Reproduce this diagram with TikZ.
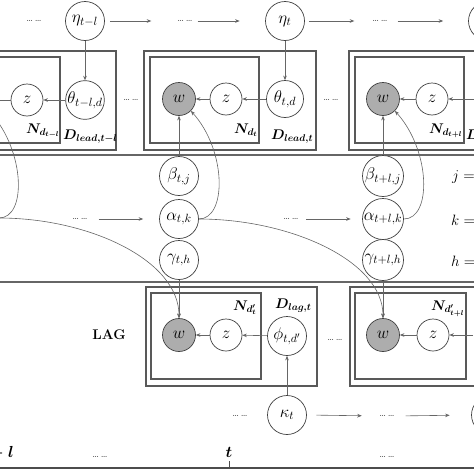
\RequirePackage{fix-cm}
\documentclass[tikz,border=0pt]{standalone}
\usetikzlibrary{arrows.meta}
\begin{document}
\begin{tikzpicture}[x=1pt,y=-1pt,
  rv/.style={circle,draw=black!75,line width=0.7pt,fill=white,minimum size=39pt,inner sep=0pt,font=\fontsize{17}{19}\selectfont},
  smallrv/.style={rv,minimum size=32pt},
  obsrv/.style={rv,minimum size=33pt,fill=black!32},
  conn/.style={draw=black!60,line width=0.6pt,-{Stealth[length=4.5pt,width=3.6pt]}},
  platebox/.style={draw=black!65,line width=1.1pt},
  sepline/.style={draw=black!60,line width=1.1pt},
  dotsn/.style={font=\fontsize{10}{11}\selectfont,text=black!75,inner sep=0pt},
  plab/.style={font=\fontsize{14}{16}\selectfont\boldmath,inner sep=0pt,anchor=base west},
  idx/.style={font=\fontsize{15}{17}\selectfont,inner sep=0pt,anchor=west},
  tlab/.style={font=\fontsize{16}{18}\selectfont\boldmath,inner sep=0pt}
]
\useasboundingbox (0,0) rectangle (474,474);
\clip (0,0) rectangle (474,474);

% ---------- top row (eta) ----------
\node[dotsn] (td1) at (34,21) {\ldots\,\ldots};
\node[rv] (eta1) at (85,21) {$\eta_{t-l}$};
\node[dotsn] (td2) at (185,21) {\ldots\,\ldots};
\node[rv] (eta2) at (285,21) {$\eta_t$};
\node[dotsn] (td3) at (380,21) {\ldots\,\ldots};
\node[rv] (eta3) at (488,21) {};
\draw[conn,shorten <=5pt,shorten >=26pt] (eta1.east) -- (td2.west);
\draw[conn,shorten <=5pt,shorten >=25.5pt] (td2.east) -- (eta2.west);
\draw[conn,shorten <=4pt,shorten >=18pt] (eta2.east) -- (td3.west);
\draw[conn,shorten <=10pt,shorten >=25pt] (td3.east) -- (eta3.west);

% ---------- LEAD plates ----------
\draw[platebox] (-60,51) rectangle (116,150);
\draw[platebox] (-60,57) rectangle (60,143);
\draw[platebox] (144,51) rectangle (316,150);
\draw[platebox] (150,57) rectangle (259,143);
\draw[platebox] (349,51) rectangle (540,150);
\draw[platebox] (355,57) rectangle (464,143);

\coordinate (w1) at (-22,100);
\node[smallrv] (z1) at (27,100) {$z$};
\node[rv,minimum size=38pt] (th1) at (85,100) {$\theta_{t-l,d}$};
\node[obsrv] (w2) at (179,99) {$w$};
\node[smallrv] (z2) at (226,99) {$z$};
\node[rv,minimum size=37pt] (th2) at (285,99) {$\theta_{t,d}$};
\node[obsrv] (w3) at (383,99) {$w$};
\node[smallrv] (z3) at (432,99) {$z$};
\coordinate (th3) at (492,99);

\node[dotsn] (pd1) at (131,100) {\ldots\,\ldots};
\node[dotsn] (pd2) at (331,100) {\ldots\,\ldots};

\node[plab] (n1) at (26,133) {$N_{d_{t-l}}$};
\node[plab] (d1) at (63,139) {$D_{lead,t-l}$};
\node[plab] (n2) at (234,133) {$N_{d_t}$};
\node[plab] (d2) at (271,139) {$D_{lead,t}$};
\node[plab] (n3) at (429,133) {$N_{d_{t+l}}$};
\node[plab] (d3) at (466,139) {$D_{lead,t+l}$};

\draw[conn] (eta1) -- (th1);
\draw[conn] (th1) -- (z1);
\draw[conn,shorten >=16pt] (z1) -- (w1);
\draw[conn] (eta2) -- (th2);
\draw[conn] (th2) -- (z2);
\draw[conn] (z2) -- (w2);
\draw[conn,shorten <=18pt] (th3) -- (z3);
\draw[conn] (z3) -- (w3);

% ---------- separators ----------
\draw[sepline] (0,155) -- (474,155);
\draw[sepline] (0,282) -- (474,282);

% ---------- middle (beta, alpha, gamma) ----------
\node[rv] (beta1) at (179,176) {$\beta_{t,j}$};
\node[rv] (alpha1) at (179,219) {$\alpha_{t,k}$};
\node[rv] (gamma1) at (179,260) {$\gamma_{t,h}$};
\node[rv,minimum size=41pt] (beta2) at (383,176) {$\beta_{t+l,j}$};
\node[rv,minimum size=41pt] (alpha2) at (383,219) {$\alpha_{t+l,k}$};
\node[rv,minimum size=41pt] (gamma2) at (383,260) {$\gamma_{t+l,h}$};
\coordinate (alpha0) at (-1,218);
\coordinate (w1se) at (-11,111);

\node[dotsn] (md1) at (80,219) {\ldots\,\ldots};
\node[dotsn] (md2) at (291,219) {\ldots\,\ldots};
\draw[conn,shorten <=11pt,shorten >=16pt] (md1.east) -- (alpha1.west);
\draw[conn,shorten <=7.5pt,shorten >=11.5pt] (md2.east) -- (alpha2.west);

\node[idx] (jl) at (452,177) {$j =$};
\node[idx] (kl) at (451,220) {$k =$};
\node[idx] (hl) at (451,261) {$h =$};

\draw[conn] (beta1) -- (w2);
\draw[conn] (beta2) -- (w3);

% ---------- LAG plates ----------
\node[font=\fontsize{14}{16}\selectfont\bfseries,inner sep=0pt] (lag) at (109,335) {LAG};
\draw[platebox] (146,287) rectangle (317,386);
\draw[platebox] (151,293) rectangle (261,379);
\draw[platebox] (350,287) rectangle (540,386);
\draw[platebox] (355,293) rectangle (466,379);

\node[obsrv] (w4) at (179,335) {$w$};
\node[smallrv] (z4) at (226,335) {$z$};
\node[rv] (phi1) at (287,336) {$\phi_{t,d'}$};
\node[obsrv] (w5) at (383,335) {$w$};
\node[smallrv] (z5) at (433,335) {$z$};
\coordinate (phi2) at (492,335);
\node[dotsn] (ld1) at (335,340) {\ldots\,\ldots};

\node[plab] (n4) at (233,310) {$N_{d'_t}$};
\node[plab] (d4) at (275,308) {$D_{lag,t}$};
\node[plab] (n5) at (431,310) {$N_{d'_{t+l}}$};

\draw[conn] (gamma1) -- (w4);
\draw[conn] (gamma2) -- (w5);
\draw[conn] (z4) -- (w4);
\draw[conn] (phi1) -- (z4);
\draw[conn] (z5) -- (w5);
\draw[conn,shorten <=19pt] (phi2) -- (z5);

% ---------- curved links from alpha ----------
\draw[conn] (alpha0) .. controls +(28,0) and +(36,40) .. (w1se);
\draw[conn] (alpha0) .. controls +(90,0) and +(0,-58) .. (w4.north);
\draw[conn] (alpha1.east) .. controls +(28,0) and +(36,40) .. (w2.south east);
\draw[conn] (alpha1.east) .. controls +(90,0) and +(0,-58) .. (w5.north);
\draw[conn] (alpha2.east) .. controls +(28,0) and +(36,40) .. (w3.south east);

% ---------- bottom row (kappa) ----------
\node[dotsn] (bd1) at (240,416) {\ldots\,\ldots};
\node[rv] (kap1) at (287,415) {$\kappa_t$};
\node[dotsn] (bd2) at (387,416) {\ldots\,\ldots};
\node[rv] (kap2) at (491,415) {};
\draw[conn] (kap1) -- (phi1);
\draw[conn,shorten <=9.5pt,shorten >=17.5pt] (kap1.east) -- (bd2.west);
\draw[conn,shorten <=11pt,shorten >=21.5pt] (bd2.east) -- (kap2.west);

% ---------- time axis ----------
\node[dotsn] (ad1) at (100,457) {\ldots\,\ldots};
\node[dotsn] (ad2) at (387,457) {\ldots\,\ldots};
\node[tlab,anchor=base] (tt) at (229,457) {$t$};
\node[tlab,anchor=base east] (ttl) at (14,457) {$t-l$};
\draw[draw=black!70,line width=1.3pt] (0,468) -- (474,468);
\draw[draw=black!70,line width=0.7pt] (229,461) -- (229,468);
\end{tikzpicture}
\end{document}
